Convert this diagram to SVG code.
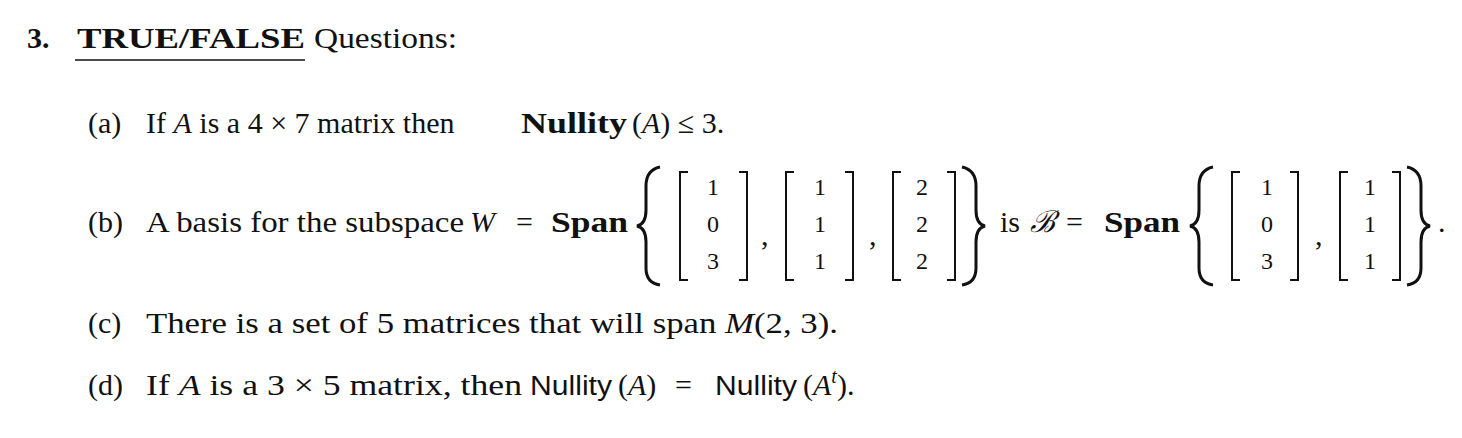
<svg xmlns="http://www.w3.org/2000/svg" width="1462" height="438" viewBox="0 0 1462 438">
<style>
text{font-family:"Liberation Serif","DejaVu Serif",serif;font-size:30px;fill:#111}
.b{font-weight:bold}
.i{font-style:italic}
.s{font-family:"Liberation Sans","DejaVu Sans",sans-serif;font-size:27px}
.n{font-size:24px;text-anchor:middle}
.br{fill:none;stroke:#111;stroke-width:2}
.bc{fill:none;stroke:#111;stroke-width:3}
</style>
<rect width="1462" height="438" fill="#fff"/>
<text x="27" y="48" class="b">3.</text>
<text x="77" y="48" class="b" textLength="228" lengthAdjust="spacingAndGlyphs">TRUE/FALSE</text>
<line x1="75" y1="60" x2="305" y2="60" stroke="#111" stroke-width="1.5"/>
<text x="314" y="48" textLength="143" lengthAdjust="spacingAndGlyphs">Questions:</text>

<text x="88" y="133">(a)</text>
<text x="146" y="133">If <tspan class="i">A</tspan> is a 4 × 7 matrix then</text>
<text x="521" y="133" class="b" textLength="106" lengthAdjust="spacingAndGlyphs">Nullity</text>
<text x="632" y="133">(<tspan class="i">A</tspan>) ≤ 3.</text>

<text x="88" y="232">(b)</text>
<text x="146" y="232" textLength="318" lengthAdjust="spacingAndGlyphs">A basis for the subspace</text>
<text x="470" y="232" class="i">W</text>
<text x="516" y="232">=</text>
<text x="551" y="232" class="b" textLength="77" lengthAdjust="spacingAndGlyphs">Span</text>
<path class="bc" d="M660 167 Q646 170 646 186 L646 210 Q646 224 637 226 Q646 228 646 242 L646 268 Q646 283 660 285"/>
<path class="br" d="M688 172 H680 V280 H688 M739 172 H747 V280 H739"/>
<text class="n" x="713" y="195">1</text><text class="n" x="713" y="232">0</text><text class="n" x="713" y="269">3</text>
<text x="761" y="245">,</text>
<path class="br" d="M794 172 H786 V280 H794 M845 172 H853 V280 H845"/>
<text class="n" x="820" y="195">1</text><text class="n" x="820" y="232">1</text><text class="n" x="820" y="269">1</text>
<text x="869" y="245">,</text>
<path class="br" d="M901 172 H893 V280 H901 M947 172 H955 V280 H947"/>
<text class="n" x="922" y="195">2</text><text class="n" x="922" y="232">2</text><text class="n" x="922" y="269">2</text>
<path class="bc" d="M962 167 Q976 170 976 186 L976 210 Q976 224 985 226 Q976 228 976 242 L976 268 Q976 283 962 285"/>
<text x="1000" y="232">is</text>
<text x="1030" y="232" class="i">ℬ</text>
<text x="1066" y="232">=</text>
<text x="1104" y="232" class="b" textLength="76" lengthAdjust="spacingAndGlyphs">Span</text>
<path class="bc" d="M1213 167 Q1199 170 1199 186 L1199 210 Q1199 224 1190 226 Q1199 228 1199 242 L1199 268 Q1199 283 1213 285"/>
<path class="br" d="M1240 172 H1232 V280 H1240 M1290 172 H1298 V280 H1290"/>
<text class="n" x="1267" y="195">1</text><text class="n" x="1267" y="232">0</text><text class="n" x="1267" y="269">3</text>
<text x="1315" y="245">,</text>
<path class="br" d="M1348 172 H1340 V280 H1348 M1392 172 H1400 V280 H1392"/>
<text class="n" x="1370" y="195">1</text><text class="n" x="1370" y="232">1</text><text class="n" x="1370" y="269">1</text>
<path class="bc" d="M1407 167 Q1421 170 1421 186 L1421 210 Q1421 224 1430 226 Q1421 228 1421 242 L1421 268 Q1421 283 1407 285"/>
<text x="1438" y="232">.</text>

<text x="88" y="333">(c)</text>
<text x="146" y="333" textLength="692" lengthAdjust="spacingAndGlyphs">There is a set of 5 matrices that will span <tspan class="i">M</tspan>(2, 3).</text>

<text x="88" y="395">(d)</text>
<text x="146" y="395" textLength="376" lengthAdjust="spacingAndGlyphs">If <tspan class="i">A</tspan> is a 3 × 5 matrix, then</text>
<text x="530" y="395" class="s" textLength="82" lengthAdjust="spacingAndGlyphs">Nullity</text>
<text x="618" y="395">(<tspan class="i">A</tspan>)</text>
<text x="675" y="395">=</text>
<text x="715" y="395" class="s" textLength="82" lengthAdjust="spacingAndGlyphs">Nullity</text>
<text x="803" y="395">(<tspan class="i">A</tspan><tspan class="i" font-size="20" dy="-12">t</tspan><tspan dy="12">).</tspan></text>
</svg>
